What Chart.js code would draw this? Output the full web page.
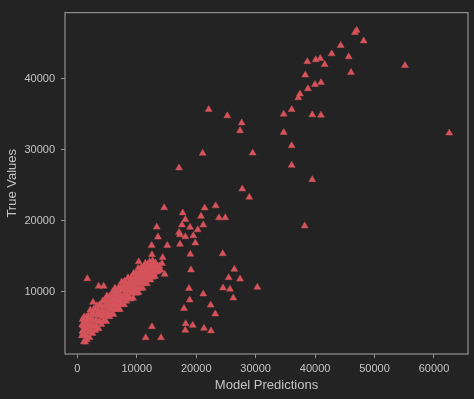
<!DOCTYPE html>
<html>
<head>
<meta charset="utf-8">
<script src="https://cdn.jsdelivr.net/npm/chart.js@4"></script>
<style>
  body { margin: 0; background: #232323; }
  canvas { display: block; }
</style>
</head>
<body>
<canvas id="scatter" width="474" height="399"></canvas>
<script>
// ---------- DATA ----------

// model predictions (x) and true values (y), paired by index
var predicted = [
  750, 790, 870, 840, 1100, 1060, 1140, 1230, 1270, 1320,
  1290, 1510, 1470, 1550, 1640, 1600, 1720, 1910, 1870, 1950,
  2050, 2010, 2140, 2180, 2330, 2290, 2470, 2430, 2560, 2710,
  2750, 2880, 2840, 3010, 3050, 3150, 3260, 3220, 3300, 3480,
  3440, 3590, 3700, 3740, 3870, 3830, 4020, 4060, 4140, 4310,
  4270, 4450, 4490, 4570, 4720, 4680, 4860, 4900, 5010, 4970,
  5150, 5190, 5290, 5400, 5360, 5560, 5600, 5690, 5650, 5810,
  5950, 5990, 6080, 6040, 6220, 6260, 6370, 6330, 6490, 6610,
  6650, 6750, 6710, 6880, 6920, 7040, 7000, 7160, 7200, 7290,
  7250, 7430, 7470, 7580, 7540, 7690, 7830, 7870, 7960, 7920,
  8110, 8150, 8240, 8200, 8390, 8430, 8520, 8480, 8660, 8700,
  8790, 8930, 8890, 9070, 9110, 9210, 9170, 9350, 9390, 9480,
  9440, 9620, 9660, 9770, 9730, 9900, 9940, 10040, 10000, 10180,
  10220, 10330, 10290, 10460, 10500, 10600, 10560, 10740, 10780, 10890,
  10850, 11020, 11060, 11160, 11120, 11310, 11350, 11450, 11410, 11580,
  11620, 11720, 11680, 11860, 11900, 12010, 11970, 12150, 12190, 12300,
  12260, 12440, 12580, 12620, 12720, 12680, 12870, 13010, 13050, 13160,
  13120, 13300, 13460, 13620, 13780, 14000,
  46990, 46710, 48170, 44300, 42790, 45650, 38690, 40100, 40870, 41610,
  46040, 55120, 38350, 39980, 40990, 38800, 37460, 37170, 36060, 34720,
  39530, 40990, 34720, 62570, 36060, 36060, 39530, 29500, 27650, 27370,
  27750, 28930, 22100, 25230, 21090, 17110, 38250,
  14610, 17730, 21430, 23280, 18170, 20810, 23830, 24890, 17610, 18960,
  21190, 13360, 20250, 17110, 17270, 18170, 19510, 13570, 19850, 17270,
  12510, 15140, 19010, 24460, 12560, 14360, 10330, 14250, 19120, 26410,
  14700, 25470, 27370, 30280, 18790, 24510, 25680, 21190, 26240, 18910,
  22440, 17950, 23210, 12560, 18230, 19410, 18170, 21310, 22490, 11500,
  14080, 1680, 3600, 4440, 2640, 4660
];

var actual = [
  3820, 5320, 6100, 4400, 2970, 5170, 6470, 3970, 5870, 2930,
  4830, 6470, 3770, 5370, 4670, 3270, 6030, 4260, 6660, 5360,
  3570, 6070, 4930, 7430, 4370, 6170, 6970, 5370, 4140, 5950,
  7550, 5170, 6770, 4570, 7370, 5970, 6750, 5150, 8050, 5810,
  7510, 4790, 6970, 8170, 5800, 6700, 8010, 5410, 7390, 6520,
  8720, 5920, 7920, 7210, 8720, 6620, 5820, 8020, 7330, 9430,
  6730, 8630, 8030, 6510, 9310, 7630, 8630, 7020, 9320, 8210,
  10010, 7510, 6810, 8910, 8210, 9610, 7520, 10520, 8910, 8100,
  10100, 7500, 9500, 8790, 10590, 8210, 10010, 7500, 9500, 10690,
  8790, 9290, 11390, 8400, 10300, 9180, 10890, 8190, 9780, 11480,
  9090, 10590, 8690, 11290, 10300, 9500, 11990, 10790, 9190, 10090,
  11490, 8990, 10890, 10190, 12090, 9790, 11490, 11000, 9100, 12590,
  10590, 9990, 11990, 11500, 10500, 12600, 9800, 11200, 12100, 10500,
  13300, 11810, 9910, 11210, 12810, 10510, 12210, 13410, 11710, 11220,
  12720, 10520, 12220, 13420, 11820, 11230, 12830, 14030, 12330, 11720,
  13420, 11130, 12830, 13830, 12230, 11840, 13340, 14240, 12740, 11650,
  13750, 12550, 13650, 12050, 13060, 14360, 12570, 13470, 12170, 14080,
  12980, 12780, 13600, 12910, 13630, 13090,
  46800, 46500, 45320, 44680, 43500, 43080, 42390, 42670, 42850, 41980,
  40880, 41840, 40510, 39170, 39450, 38580, 37850, 37300, 35650, 35010,
  34910, 34870, 32430, 32350, 30560, 27810, 25790, 29540, 33770, 32670,
  24480, 23310, 35650, 34770, 29500, 27440, 19280,
  21840, 21110, 21800, 22110, 20190, 20650, 20420, 20420, 19420, 19090,
  19420, 19110, 18730, 18360, 18040, 17760, 17900, 17710, 16880, 16700,
  16530, 16530, 15290, 15370, 15230, 14820, 14230, 13990, 13090, 13170,
  12480, 11990, 11790, 10650, 10470, 10550, 10380, 9690, 9140, 8860,
  8130, 7660, 6890, 5100, 5520, 5280, 4600, 4870, 4500, 3540,
  3540, 11850, 10790, 10790, 8520, 8820
];

var xTicks = [0, 10000, 20000, 30000, 40000, 50000, 60000];
var yTicks = [10000, 20000, 30000, 40000];

// ---------- STYLE ----------

var bg = "#232323";
var frame = "#8f8f8f";
var textColor = "#c4c4c4";
var markerColor = "#d5535b";

var points = predicted.map(function(x, i) {
  return { x: x, y: actual[i] };
});

// dark background + full box around plot area
var frameBox = {
  id: "frameBox",
  beforeDraw: function(chart) {
    var ctx = chart.ctx;
    ctx.save();
    ctx.fillStyle = bg;
    ctx.fillRect(0, 0, chart.width, chart.height);
    ctx.restore();
  },
  afterDatasetsDraw: function(chart) {
    var a = chart.chartArea;
    var ctx = chart.ctx;
    ctx.save();
    ctx.strokeStyle = frame;
    ctx.lineWidth = 1.2;
    ctx.strokeRect(a.left, a.top, a.right - a.left, a.bottom - a.top);
    ctx.restore();
  }
};

var tickFont = { family: "Liberation Sans, Arial, sans-serif", size: 11 };
var titleFont = { family: "Liberation Sans, Arial, sans-serif", size: 13 };

var scatterChart = new Chart(document.getElementById("scatter"), {
  type: "scatter",
  data: {
    datasets: [{
      data: points,
      pointStyle: "triangle",
      pointRadius: 4,
      pointHoverRadius: 4,
      backgroundColor: markerColor,
      borderColor: markerColor,
      borderWidth: 0.5
    }]
  },
  options: {
    responsive: false,
    animation: false,
    layout: { padding: { top: 5, right: 6, left: 0, bottom: 0 } },
    plugins: {
      legend: { display: false },
      tooltip: { enabled: false }
    },
    scales: {
      x: {
        type: "linear",
        min: -2070,
        max: 65720,
        afterBuildTicks: function(scale) {
          scale.ticks = xTicks.map(function(v) { return { value: v }; });
        },
        afterFit: function(scale) { scale.height = 45; },
        grid: {
          drawOnChartArea: false,
          drawTicks: true,
          tickLength: 4,
          tickColor: frame
        },
        border: { display: false },
        ticks: {
          color: textColor,
          font: tickFont,
          padding: 4,
          maxRotation: 0,
          callback: function(v) { return String(v); }
        },
        title: {
          display: true,
          text: "Model Predictions",
          color: textColor,
          font: titleFont,
          padding: { top: 0, bottom: 6 }
        }
      },
      y: {
        type: "linear",
        min: 1250,
        max: 49300,
        afterBuildTicks: function(scale) {
          scale.ticks = yTicks.map(function(v) { return { value: v }; });
        },
        afterFit: function(scale) { scale.width = 65; },
        grid: {
          drawOnChartArea: false,
          drawTicks: true,
          tickLength: 4,
          tickColor: frame
        },
        border: { display: false },
        ticks: {
          color: textColor,
          font: tickFont,
          padding: 6,
          callback: function(v) { return String(v); }
        },
        title: {
          display: true,
          text: "True Values",
          color: textColor,
          font: titleFont,
          padding: { top: 5, bottom: 0 }
        }
      }
    }
  },
  plugins: [frameBox]
});
</script>
</body>
</html>
